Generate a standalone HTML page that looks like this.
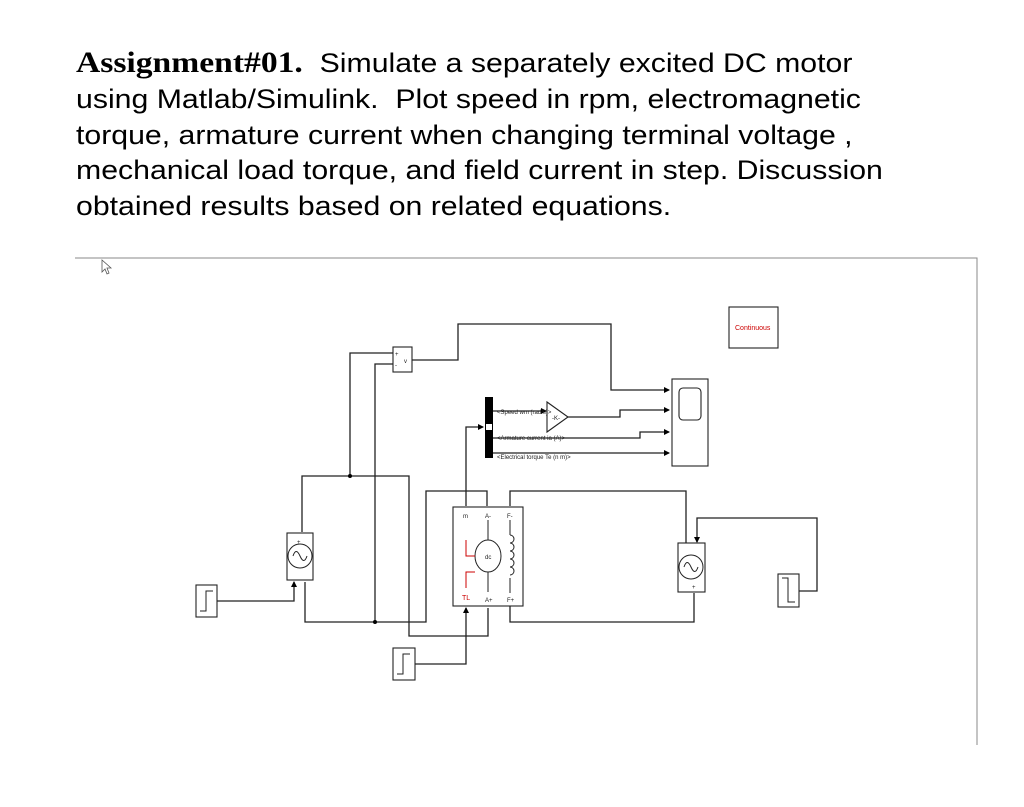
<!DOCTYPE html>
<html><head><meta charset="utf-8"><style>
body{margin:0;background:#fff;width:1024px;height:807px;overflow:hidden;position:relative}
.t{position:absolute;left:76px;font-family:"Liberation Sans",sans-serif;font-size:27px;color:#000;white-space:pre;line-height:36px;transform:scaleX(1.12);transform-origin:0 0}
b{font-family:"Liberation Serif",serif;font-size:30px}
</style></head><body>
<div class="t" style="top:45px"><b>Assignment#01.</b>  Simulate a separately excited DC motor</div>
<div class="t" style="top:81px">using Matlab/Simulink.  Plot speed in rpm, electromagnetic</div>
<div class="t" style="top:117px">torque, armature current when changing terminal voltage ,</div>
<div class="t" style="top:152px">mechanical load torque, and field current in step. Discussion</div>
<div class="t" style="top:188px">obtained results based on related equations.</div>
<svg width="1024" height="807" style="position:absolute;left:0;top:0" font-family="Liberation Sans,sans-serif">
<defs><marker id="a" markerWidth="6" markerHeight="6" refX="5" refY="3" orient="auto" markerUnits="userSpaceOnUse"><path d="M0,0L6,3L0,6z" fill="#000"/></marker></defs>
<g stroke="#888" stroke-width="1" fill="none">
<path d="M75 258H977V745"/>
</g>
<path d="M102 260v12l3-3 2 5 2-1-2-5h4z" fill="#fff" stroke="#555" stroke-width="0.8"/>
<g stroke="#222" stroke-width="1.3" fill="none">
<path d="M412 360H458V324H611V390H669" marker-end="url(#a)"/>
<path d="M393 353H350V476"/>
<path d="M393 364H375V622"/>
<path d="M302 532V476H409V636H488V608"/>
<path d="M217 601H294V582" marker-end="url(#a)"/>
<path d="M305 582V622H426V491H487V506"/>
<path d="M466 506V427H483" marker-end="url(#a)"/>
<path d="M415 664H466V608" marker-end="url(#a)"/>
<path d="M510 506V491H686V543"/>
<path d="M510 606V622H694V593"/>
<path d="M799 591H817V518H697V542" marker-end="url(#a)"/>
<path d="M493 411H546" marker-end="url(#a)"/>
<path d="M568 417H620V410H669" marker-end="url(#a)"/>
<path d="M493 438H640V432H669" marker-end="url(#a)"/>
<path d="M493 453H669" marker-end="url(#a)"/>
</g>
<circle cx="350" cy="476" r="2" fill="#000"/><circle cx="375" cy="622" r="2" fill="#000"/>
<g stroke="#222" stroke-width="1.1" fill="#fff">
<rect x="393" y="347" width="19" height="25"/>
<rect x="287" y="533" width="26" height="47"/>
<rect x="453" y="507" width="70" height="99"/>
<rect x="678" y="543" width="27" height="49"/>
<rect x="672" y="379" width="36" height="87"/>
<rect x="679" y="388" width="22" height="32" rx="4"/>
<rect x="729" y="307" width="49" height="41"/>
<rect x="196" y="585" width="21" height="32"/>
<rect x="393" y="648" width="22" height="32"/>
<rect x="778" y="574" width="21" height="33"/>
<path d="M547 402L568 417L547 432z"/>
</g>
<rect x="485" y="397" width="8" height="61" fill="#000"/>
<rect x="486" y="424" width="6" height="6" fill="#fff"/>
<g fill="none" stroke="#222" stroke-width="1">
<path d="M200 611h6v-20h7"/><path d="M397 674h6v-20h7"/><path d="M782 578h6v24h7"/>
<circle cx="300" cy="556" r="12"/><path d="M293 556q3-9 7 0t7 0"/>
<circle cx="691" cy="567" r="12"/><path d="M684 567q3-9 7 0t7 0"/>
<ellipse cx="488" cy="556" rx="13" ry="16"/>
<path d="M488 520v20M488 572v20M510 520v15M510 578v15"/>
<path d="M510 535a4 4 0 1 1 0 8a4 4 0 1 1 0 8a4 4 0 1 1 0 8a4 4 0 1 1 0 8a4 4 0 1 1 0 8"/>
</g>
<path d="M466 540v16h9M466 588v-16h9" stroke="#c00" fill="none"/>
<g font-size="6" fill="#222">
<text x="463" y="518">m</text><text x="485" y="518">A-</text><text x="507" y="518">F-</text>
<text x="485" y="602">A+</text><text x="507" y="602">F+</text>
<text x="297" y="544">+</text><text x="692" y="589">+</text>
<text x="395" y="356">+</text><text x="395" y="367">-</text><text x="404" y="363">v</text>
<text x="485" y="559">dc</text>
<text x="497" y="414">&lt;Speed wm (rad/s)&gt;</text>
<text x="497" y="440">&lt;Armature current ia (A)&gt;</text>
<text x="497" y="459">&lt;Electrical torque Te (n m)&gt;</text>
<text x="552" y="420">-K-</text>
</g>
<text x="462" y="600" font-size="7" fill="#c00">TL</text>
<text x="735" y="330" font-size="7" fill="#c00">Continuous</text>
</svg>
</body></html>
